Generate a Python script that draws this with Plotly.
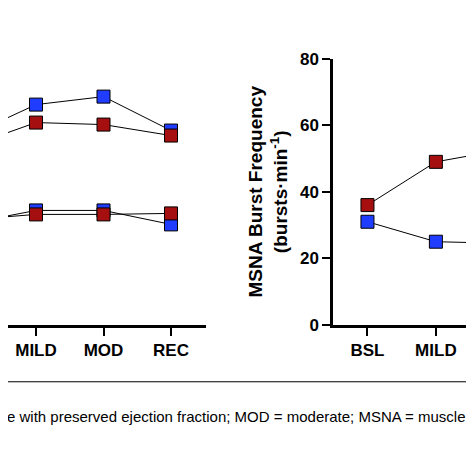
import plotly.graph_objects as go

cats = ["BSL", "MILD", "MOD", "REC"]
xpos = [0, 1, 2, 3]
left_blue_upper = [56.8, 66.2, 68.6, 58.4]
left_red_upper = [53.6, 60.8, 60.2, 56.9]
left_blue_lower = [30.5, 34.4, 34.4, 30.2]
left_red_lower = [31.6, 33.2, 33.2, 33.5]
right_cats = ["BSL", "MILD", "MOD"]
right_red = [36, 49, 52.7]
right_blue = [31, 25, 24.5]
yticks = [0, 20, 40, 60, 80]

RED = "#a50f0f"
BLUE = "#1f3cff"
fig = go.Figure()

def add(x, y, color, xa, ya):
    fig.add_trace(go.Scatter(x=x, y=y, mode="lines+markers", xaxis=xa, yaxis=ya,
        line=dict(color="black", width=1),
        marker=dict(symbol="square", size=13, color=color, line=dict(color="black", width=1)),
        cliponaxis=False, showlegend=False))

add(xpos, left_blue_upper, BLUE, "x", "y")
add(xpos, left_red_upper, RED, "x", "y")
add(xpos, left_blue_lower, BLUE, "x", "y")
add(xpos, left_red_lower, RED, "x", "y")
add(xpos[:3], right_red, RED, "x2", "y2")
add(xpos[:3], right_blue, BLUE, "x2", "y2")

tf = dict(family="Liberation Sans", size=17, color="black")
ydom = [0.3233, 0.9084]
fig.update_layout(
    width=474, height=474, margin=dict(l=0, r=0, t=0, b=0),
    plot_bgcolor="white", paper_bgcolor="white",
    font=dict(family="Liberation Sans", color="black"),
    xaxis=dict(domain=[0, 198/474], range=[1-28/67.5, 1+170/67.5], tickvals=xpos, ticktext=["<b>%s</b>" % c for c in cats],
               showline=True, linecolor="black", linewidth=2.5, ticks="outside", ticklen=8, tickwidth=2,
               tickcolor="black", showgrid=False, zeroline=False, tickfont=tf),
    yaxis=dict(domain=ydom, range=[0, 80], visible=False),
    xaxis2=dict(domain=[325/474, 1], range=[-34/67.5, 113/67.5], tickvals=xpos[:3],
               ticktext=["<b>%s</b>" % c for c in right_cats], anchor="y2",
               showline=True, linecolor="black", linewidth=2.5, ticks="outside", ticklen=8, tickwidth=2,
               tickcolor="black", showgrid=False, zeroline=False, tickfont=tf),
    yaxis2=dict(domain=ydom, range=[0, 80], anchor="x2", tickvals=yticks, ticktext=["<b>%d</b>" % v for v in yticks],
               showline=True, linecolor="black", linewidth=2.5, ticks="outside", ticklen=8, tickwidth=2,
               tickcolor="black", showgrid=False, zeroline=False, tickfont=tf,
               title=dict(text="<b>MSNA Burst Frequency<br>(bursts·min<sup>-1</sup>)</b>", font=dict(family="Liberation Sans", size=19), standoff=8)),
    shapes=[dict(type="line", xref="paper", yref="paper", x0=-0.02, x1=1, y0=0.1983, y1=0.1983,
                 line=dict(color="black", width=1))],
    annotations=[dict(text="re with preserved ejection fraction; MOD = moderate; MSNA = muscle sympathetic nerve activity",
                      xref="paper", yref="paper", x=-8/474, y=0.1216, xanchor="left", yanchor="middle",
                      showarrow=False, font=dict(family="Liberation Sans", size=15, color="black"))],
)
fig.write_html("out.html")
